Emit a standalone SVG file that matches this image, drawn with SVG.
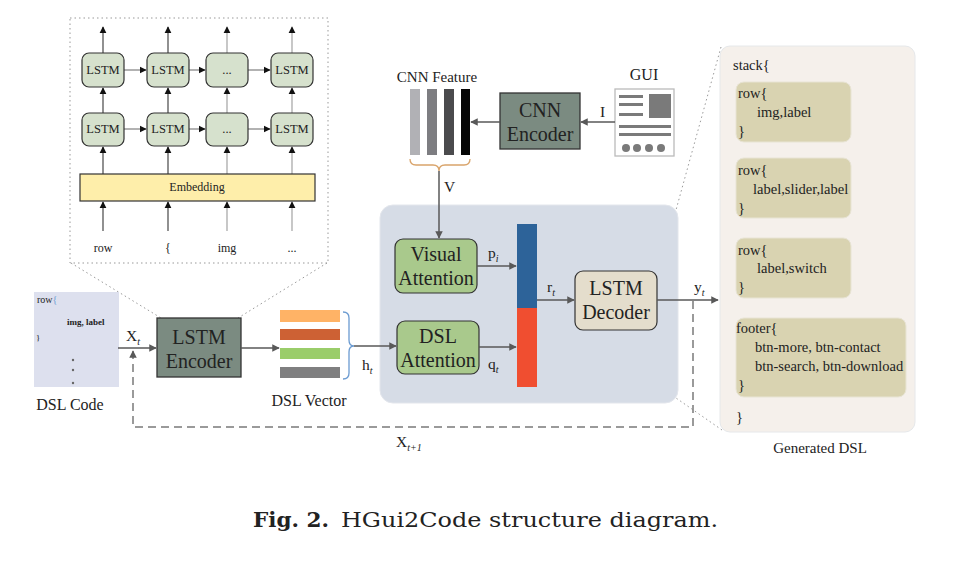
<svg xmlns="http://www.w3.org/2000/svg" width="966" height="566" viewBox="0 0 966 566" font-family="'Liberation Serif', 'Times New Roman', serif">
<defs>
<style>
text{fill:#222}
.cell{fill:#d6e1cd;stroke:#333;stroke-width:1.2}
.ct{font-size:12.5px;text-anchor:middle}
.ln{stroke:#595959;stroke-width:1.5;fill:none}
.dark{fill:#7b8b81;stroke:#333;stroke-width:1.3}
.green{fill:#a9c98c;stroke:#333;stroke-width:1.2}
.big{font-size:20px;text-anchor:middle}
.lab{font-size:15.5px}
.sub{font-size:10px;font-style:italic}
.dsl{font-size:14.5px}
.row{fill:#d9d3b1;stroke:#e8e4d4;stroke-width:1}
.dot{stroke:#999;stroke-width:1;stroke-dasharray:1.5 3;fill:none}
.gbar{fill:#7a7a7a}
</style>
<marker id="ah" viewBox="0 0 10 10" refX="9" refY="5" markerWidth="5" markerHeight="5" orient="auto" markerUnits="strokeWidth">
<path d="M0,0 L10,5 L0,10 z" fill="#595959"/>
</marker>
<marker id="ahk" viewBox="0 0 10 10" refX="9" refY="5" markerWidth="5.5" markerHeight="5.5" orient="auto" markerUnits="strokeWidth">
<path d="M0,0 L10,5 L0,10 z" fill="#111"/>
</marker>
</defs>
<rect width="966" height="566" fill="#fff"/>

<!-- inset zoom of LSTM encoder -->
<g id="inset">
<rect x="70" y="18" width="258" height="245" class="dot"/>
<g id="inset-arrows">
<g stroke="#555" stroke-width="1.3" fill="none" marker-end="url(#ahk)">
<line x1="103" y1="231" x2="103" y2="202"/><line x1="168" y1="231" x2="168" y2="202"/>
<line x1="103" y1="174" x2="103" y2="147"/><line x1="168" y1="174" x2="168" y2="147"/>
<line x1="103" y1="113" x2="103" y2="88"/><line x1="168" y1="113" x2="168" y2="88"/>
<line x1="103" y1="53" x2="103" y2="27"/><line x1="168" y1="53" x2="168" y2="27"/>
</g>
<g stroke="#aaa" stroke-width="1.3" fill="none" marker-end="url(#ahk)">
<line x1="227" y1="231" x2="227" y2="202"/><line x1="292" y1="231" x2="292" y2="202"/>
<line x1="227" y1="174" x2="227" y2="147"/><line x1="292" y1="174" x2="292" y2="147"/>
<line x1="227" y1="113" x2="227" y2="88"/><line x1="292" y1="113" x2="292" y2="88"/>
<line x1="227" y1="53" x2="227" y2="27"/><line x1="292" y1="53" x2="292" y2="27"/>
</g>
<g stroke="#888" stroke-width="1.3" fill="none" marker-end="url(#ahk)">
<line x1="124" y1="70" x2="146" y2="70"/><line x1="189" y1="70" x2="205" y2="70"/><line x1="248" y1="70" x2="270" y2="70"/>
<line x1="124" y1="129" x2="146" y2="129"/><line x1="189" y1="129" x2="205" y2="129"/><line x1="248" y1="129" x2="270" y2="129"/>
</g>
</g>
<g id="cells">
<rect class="cell" x="82" y="53" width="42" height="34" rx="7"/><text class="ct" x="103" y="74">LSTM</text>
<rect class="cell" x="147" y="53" width="42" height="34" rx="7"/><text class="ct" x="168" y="74">LSTM</text>
<rect class="cell" x="206" y="53" width="42" height="34" rx="7"/><text class="ct" x="227" y="74">...</text>
<rect class="cell" x="271" y="53" width="42" height="34" rx="7"/><text class="ct" x="292" y="74">LSTM</text>
<rect class="cell" x="82" y="113" width="42" height="33" rx="7"/><text class="ct" x="103" y="133">LSTM</text>
<rect class="cell" x="147" y="113" width="42" height="33" rx="7"/><text class="ct" x="168" y="133">LSTM</text>
<rect class="cell" x="206" y="113" width="42" height="33" rx="7"/><text class="ct" x="227" y="133">...</text>
<rect class="cell" x="271" y="113" width="42" height="33" rx="7"/><text class="ct" x="292" y="133">LSTM</text>
</g>
<g id="embedding">
<rect x="80" y="174" width="235" height="27" fill="#feeeaa" stroke="#333" stroke-width="1.2"/>
<text x="197" y="191" font-size="12" text-anchor="middle">Embedding</text>
</g>
<g font-size="12" text-anchor="middle">
<text x="103" y="252">row</text><text x="168" y="252">{</text><text x="227" y="252">img</text><text x="292" y="252">...</text>
</g>
</g>

<!-- zoom guide lines -->
<g id="guides">
<line class="dot" x1="71" y1="263" x2="161" y2="318"/>
<line class="dot" x1="327" y1="263" x2="238" y2="318"/>
<line class="dot" x1="721" y1="47" x2="676" y2="210"/>
<line class="dot" x1="722" y1="430" x2="676" y2="398"/>
</g>

<!-- DSL code -->
<g id="dsl-code">
<rect x="34" y="292" width="85" height="95" fill="#dde0ee"/>
<text x="37" y="303" font-size="10" fill="#777">row<tspan fill="#6b9bd1">{</tspan></text>
<text x="67" y="325" font-size="9" font-weight="bold" fill="#444">img, label</text>
<text x="36" y="341" font-size="9" fill="#777">}</text>
<circle cx="73" cy="360" r="1.2" fill="#666"/><circle cx="73" cy="370" r="1.2" fill="#666"/><circle cx="73" cy="383" r="1.2" fill="#666"/>
<text x="70" y="410" font-size="16" text-anchor="middle">DSL Code</text>
</g>

<g id="lstm-encoder">
<rect class="dark" x="157" y="318" width="84" height="59"/>
<text class="big" x="199" y="344">LSTM</text>
<text class="big" x="199" y="368">Encoder</text>
</g>

<g id="dsl-vector">
<rect x="280" y="310" width="60" height="12" fill="#ffb366"/>
<rect x="280" y="329" width="60" height="11" fill="#cd6134"/>
<rect x="280" y="348" width="60" height="11" fill="#9acd6a"/>
<rect x="280" y="367" width="60" height="11" fill="#7f7f80"/>
<path d="M343,312 Q349,312 349,318 L349,340 Q349,346 354,346 Q349,346 349,352 L349,373 Q349,379 343,379" fill="none" stroke="#6b9bd1" stroke-width="1.3"/>
<text x="309" y="406" font-size="16" text-anchor="middle">DSL Vector</text>
</g>

<!-- CNN part -->
<g id="cnn-feature">
<rect x="410" y="89" width="10" height="66" fill="#b1b1b5"/>
<rect x="427" y="89" width="10" height="66" fill="#7d7d81"/>
<rect x="444" y="89" width="10" height="66" fill="#4b4b4d"/>
<rect x="461" y="89" width="9" height="66" fill="#050505"/>
<path d="M410,159 Q410,165 416,165 L433,165 Q439,165 439,171 Q439,165 445,165 L464,165 Q470,165 470,159" fill="none" stroke="#d9a46b" stroke-width="1.3"/>
<text x="437" y="82" font-size="15" text-anchor="middle">CNN Feature</text>
</g>
<g id="cnn-encoder">
<rect class="dark" x="500" y="93" width="80" height="56"/>
<text class="big" x="540" y="117">CNN</text>
<text class="big" x="540" y="141">Encoder</text>
</g>
<g id="gui">
<rect x="615" y="89" width="59" height="67" fill="#fff" stroke="#bbb" stroke-width="1.3"/>
<rect class="gbar" x="619" y="95" width="24" height="3"/>
<rect class="gbar" x="619" y="103" width="24" height="3"/>
<rect class="gbar" x="619" y="113" width="24" height="3"/>
<rect class="gbar" x="649" y="94" width="22" height="24"/>
<rect class="gbar" x="619" y="125" width="52" height="3"/>
<rect class="gbar" x="619" y="133" width="52" height="3"/>
<circle class="gbar" cx="626" cy="148" r="4"/><circle class="gbar" cx="637" cy="148" r="4"/><circle class="gbar" cx="649" cy="148" r="4"/><circle class="gbar" cx="661" cy="148" r="4"/>
<text x="644" y="80" font-size="16" text-anchor="middle">GUI</text>
</g>

<!-- attention panel -->
<g id="panel">
<rect x="380" y="205" width="298" height="198" rx="13" fill="#d6dce6" stroke="#e3e6ec"/>
</g>
<g id="visual-attention">
<rect class="green" x="395" y="239" width="82" height="54" rx="8"/>
<text class="big" x="436" y="261">Visual</text>
<text class="big" x="436" y="285">Attention</text>
</g>
<g id="dsl-attention">
<rect class="green" x="397" y="321" width="82" height="53" rx="8"/>
<text class="big" x="438" y="343">DSL</text>
<text class="big" x="438" y="367">Attention</text>
</g>
<g id="concat">
<rect x="517" y="224" width="20" height="84" fill="#2d6399"/>
<rect x="517" y="308" width="20" height="79" fill="#f04e30"/>
</g>
<g id="lstm-decoder">
<rect x="575" y="271" width="82" height="59" rx="8" fill="#e4ddcc" stroke="#333" stroke-width="1.2"/>
<text class="big" x="616" y="295">LSTM</text>
<text class="big" x="616" y="319">Decoder</text>
</g>

<!-- generated DSL -->
<g id="generated-dsl">
<rect x="720" y="46" width="195" height="386" rx="10" fill="#f5f0eb" stroke="#e6e8ea"/>
<text class="dsl" x="733" y="70">stack{</text>
<rect class="row" x="736" y="82" width="115" height="60" rx="8"/>
<text class="dsl" x="738" y="98">row{</text><text class="dsl" x="757" y="117">img,label</text><text class="dsl" x="738" y="136">}</text>
<rect class="row" x="736" y="158" width="115" height="60" rx="8"/>
<text class="dsl" x="738" y="175">row{</text><text class="dsl" x="753" y="194">label,slider,label</text><text class="dsl" x="738" y="213">}</text>
<rect class="row" x="736" y="238" width="115" height="60" rx="8"/>
<text class="dsl" x="738" y="255">row{</text><text class="dsl" x="757" y="273">label,switch</text><text class="dsl" x="738" y="292">}</text>
<rect class="row" x="736" y="318" width="170" height="79" rx="8"/>
<text class="dsl" x="736" y="333">footer{</text><text class="dsl" x="755" y="352">btn-more, btn-contact</text><text class="dsl" x="755" y="371">btn-search, btn-download</text><text class="dsl" x="738" y="390">}</text>
<text class="dsl" x="736" y="422">}</text>
<text x="820" y="453" font-size="15" text-anchor="middle">Generated DSL</text>
</g>

<!-- connectors -->
<g id="connectors">
<line class="ln" x1="118" y1="348" x2="156" y2="348" marker-end="url(#ah)"/>
<line class="ln" x1="241" y1="348" x2="279" y2="348" marker-end="url(#ah)"/>
<line class="ln" x1="354" y1="346" x2="396" y2="346" marker-end="url(#ah)"/>
<line class="ln" x1="500" y1="122" x2="471" y2="122" marker-end="url(#ah)"/>
<line class="ln" x1="615" y1="122" x2="581" y2="122" marker-end="url(#ah)"/>
<line class="ln" x1="439" y1="171" x2="439" y2="238" marker-end="url(#ah)"/>
<line class="ln" x1="477" y1="266" x2="516" y2="266" marker-end="url(#ah)"/>
<line class="ln" x1="479" y1="347" x2="516" y2="347" marker-end="url(#ah)"/>
<line class="ln" x1="537" y1="300" x2="574" y2="300" marker-end="url(#ah)"/>
<line class="ln" x1="657" y1="300" x2="718" y2="300" marker-end="url(#ah)"/>
<polyline points="693,301 693,427 133,427 133,351" fill="none" stroke="#7a7a7a" stroke-width="1.5" stroke-dasharray="8 5" marker-end="url(#ah)"/>
</g>

<!-- connector labels -->
<g id="labels" class="lab">
<text x="126" y="341">X<tspan class="sub" dy="4">t</tspan></text>
<text x="362" y="370">h<tspan class="sub" dy="4">t</tspan></text>
<text x="444" y="192">V</text>
<text x="600" y="117">I</text>
<text x="488" y="258">p<tspan class="sub" dy="4">i</tspan></text>
<text x="488" y="369">q<tspan class="sub" dy="4">t</tspan></text>
<text x="547" y="292">r<tspan class="sub" dy="4">t</tspan></text>
<text x="694" y="292">y<tspan class="sub" dy="4">t</tspan></text>
<text x="396" y="447">X<tspan class="sub" dy="4">t+1</tspan></text>
</g>

<!-- caption -->
<g id="caption" font-family="'DejaVu Serif', 'Liberation Serif', serif" font-size="20">
<text x="253" y="527" font-weight="bold" textLength="76" lengthAdjust="spacingAndGlyphs">Fig. 2.</text>
<text x="341" y="527" textLength="377" lengthAdjust="spacingAndGlyphs">HGui2Code structure diagram.</text>
</g>
</svg>
